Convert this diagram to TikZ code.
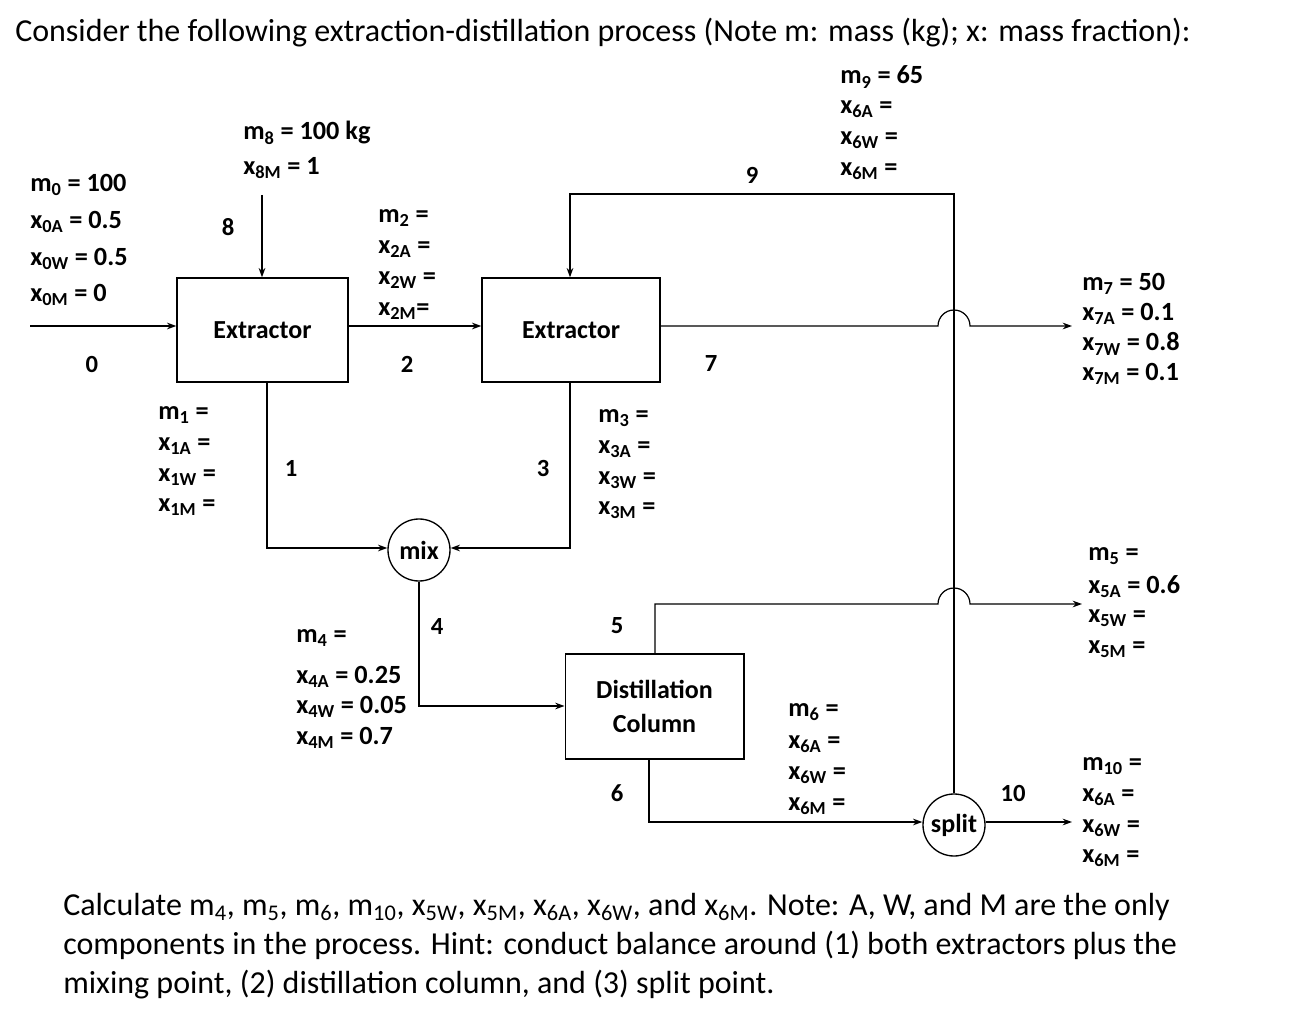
\documentclass[tikz,border=0pt]{standalone}
\usepackage{fontspec}
\setmainfont{Carlito}
\usetikzlibrary{arrows.meta}
\begin{document}
\begin{tikzpicture}[x=0.75pt,y=-0.75pt,
  lab/.style={anchor=west,font=\fontsize{19.7}{20}\selectfont\bfseries,inner sep=0pt},
  num/.style={font=\fontsize{18.5}{20}\selectfont\bfseries,inner sep=0pt},
  box/.style={draw,line width=1pt,font=\fontsize{19.5}{26}\selectfont\bfseries,align=center,inner sep=0pt},
  circ/.style={draw,circle,line width=1pt,minimum size=46.5pt,inner sep=0pt,font=\fontsize{19.5}{20}\selectfont\bfseries},
  ln/.style={line width=0.9pt},
  ar/.style={ln,-{Stealth[length=7pt,width=5pt]}}]
\useasboundingbox (0,0) rectangle (1296,1016);
\node[anchor=west,inner sep=0pt,font=\fontsize{24}{26}\selectfont] (title) at (15,33) {Consider the following extraction-distillation process (Note m: mass (kg); x: mass fraction):};
% boxes
\node[box,minimum width=128.25pt,minimum height=78pt] (e1) at (262.5,330) {Extractor};
\node[box,minimum width=133.5pt,minimum height=78pt] (e2) at (571,330) {Extractor};
\node[box,minimum width=134pt,minimum height=78.75pt] (dc) at (654.5,706.5) {Distillation\\Column};
\node[circ] (mix) at (419,550) {mix};
\node[circ] (split) at (954,825) {split};
% coordinates
\coordinate (s0) at (30,326);
\coordinate (s8) at (262,195);
\coordinate (c1) at (267,548);
\coordinate (c3) at (570,548);
\coordinate (c4) at (419,706);
\coordinate (c5) at (655,604);
\coordinate (e5) at (1082,604);
\coordinate (c6) at (649,822);
\coordinate (c9a) at (954,194);
\coordinate (c9b) at (570,194);
\coordinate (e7) at (1072,326);
\coordinate (e10) at (1072,822);
% streams
\draw[ar] (s0) -- (s0 -| e1.west);
\draw[ar] (s8) -- (s8 |- e1.north);
\draw[ar] (e1.east |- 0,326) -- (e2.west |- 0,326);
\draw[ar] (c1 |- e1.south) -- (c1) -- (mix.west |- c1);
\draw[ar] (c3 |- e2.south) -- (c3) -- (mix.east |- c3);
\draw[ar] (mix.south) -- (c4) -- (dc.west |- c4);
\draw[ar] (c5 |- dc.north) -- (c5) -- (938,604) arc[start angle=180,end angle=360,radius=16] -- (e5);
\draw[ar] (c6 |- dc.south) -- (c6) -- (split.west |- c6);
\draw[ar] (split.north) -- (c9a) -- (c9b) -- (c9b |- e2.north);
\draw[ar] (e2.east |- 0,326) -- (938,326) arc[start angle=180,end angle=360,radius=16] -- (e7);
\draw[ar] (split.east |- e10) -- (e10);
% stream numbers
\node[num] (n0) at (92,364) {0};
\node[num] (n8) at (228,227) {8};
\node[num] (n2) at (407,364) {2};
\node[num] (n1) at (291,468) {1};
\node[num] (n3) at (543,468) {3};
\node[num] (n4) at (437,626) {4};
\node[num] (n5) at (617,626) {5};
\node[num] (n6) at (617,793) {6};
\node[num] (n7) at (711,364) {7};
\node[num] (n9) at (752,175) {9};
\node[num] (n10) at (1013,793) {10};
% labels
\node[lab] (m8) at (243,133) {m\textsubscript{8} = 100 kg};
\node[lab] (x8) at (243,168) {x\textsubscript{8M} = 1};
\node[lab] (m0) at (30,185) {m\textsubscript{0} = 100};
\node[lab] (x0a) at (30,222) {x\textsubscript{0A} = 0.5};
\node[lab] (x0w) at (30,259) {x\textsubscript{0W} = 0.5};
\node[lab] (x0m) at (30,295) {x\textsubscript{0M} = 0};
\node[lab] (m2) at (378,218) {m\textsubscript{2} =};
\node[lab] (x2a) at (378,249) {x\textsubscript{2A} =};
\node[lab] (x2w) at (378,280) {x\textsubscript{2W} =};
\node[lab] (x2m) at (378,311) {x\textsubscript{2M}=};
\node[lab] (m9) at (840,77) {m\textsubscript{9} = 65};
\node[lab] (x9a) at (840,109) {x\textsubscript{6A} =};
\node[lab] (x9w) at (840,140) {x\textsubscript{6W} =};
\node[lab] (x9m) at (840,171) {x\textsubscript{6M} =};
\node[lab] (m7) at (1082,284) {m\textsubscript{7} = 50};
\node[lab] (x7a) at (1082,314) {x\textsubscript{7A} = 0.1};
\node[lab] (x7w) at (1082,344) {x\textsubscript{7W} = 0.8};
\node[lab] (x7m) at (1082,374) {x\textsubscript{7M} = 0.1};
\node[lab] (m1) at (158,415) {m\textsubscript{1} =};
\node[lab] (x1a) at (158,446) {x\textsubscript{1A} =};
\node[lab] (x1w) at (158,477) {x\textsubscript{1W} =};
\node[lab] (x1m) at (158,507) {x\textsubscript{1M} =};
\node[lab] (m3) at (598,418) {m\textsubscript{3} =};
\node[lab] (x3a) at (598,449) {x\textsubscript{3A} =};
\node[lab] (x3w) at (598,480) {x\textsubscript{3W} =};
\node[lab] (x3m) at (598,510) {x\textsubscript{3M} =};
\node[lab] (m5) at (1088,556) {m\textsubscript{5} =};
\node[lab] (x5a) at (1088,587) {x\textsubscript{5A} = 0.6};
\node[lab] (x5w) at (1088,618) {x\textsubscript{5W} =};
\node[lab] (x5m) at (1088,649) {x\textsubscript{5M} =};
\node[lab] (m4) at (296,638) {m\textsubscript{4} =};
\node[lab] (x4a) at (296,677) {x\textsubscript{4A} = 0.25};
\node[lab] (x4w) at (296,707) {x\textsubscript{4W} = 0.05};
\node[lab] (x4m) at (296,738) {x\textsubscript{4M} = 0.7};
\node[lab] (m6) at (788,712) {m\textsubscript{6} =};
\node[lab] (x6a) at (788,744) {x\textsubscript{6A} =};
\node[lab] (x6w) at (788,775) {x\textsubscript{6W} =};
\node[lab] (x6m) at (788,806) {x\textsubscript{6M} =};
\node[lab] (m10) at (1082,766) {m\textsubscript{10} =};
\node[lab] (x10a) at (1082,797) {x\textsubscript{6A} =};
\node[lab] (x10w) at (1082,828) {x\textsubscript{6W} =};
\node[lab] (x10m) at (1082,858) {x\textsubscript{6M} =};
% bottom text
\node[anchor=west,inner sep=0pt,font=\fontsize{24}{26}\selectfont] (b1) at (63,907) {Calculate m\textsubscript{4}, m\textsubscript{5}, m\textsubscript{6}, m\textsubscript{10}, x\textsubscript{5W}, x\textsubscript{5M}, x\textsubscript{6A}, x\textsubscript{6W}, and x\textsubscript{6M}. Note: A, W, and M are the only};
\node[anchor=west,inner sep=0pt,font=\fontsize{24}{26}\selectfont] (b2) at (63,945) {components in the process. Hint: conduct balance around (1) both extractors plus the};
\node[anchor=west,inner sep=0pt,font=\fontsize{24}{26}\selectfont] (b3) at (63,985) {mixing point, (2) distillation column, and (3) split point.};
\end{tikzpicture}
\end{document}
